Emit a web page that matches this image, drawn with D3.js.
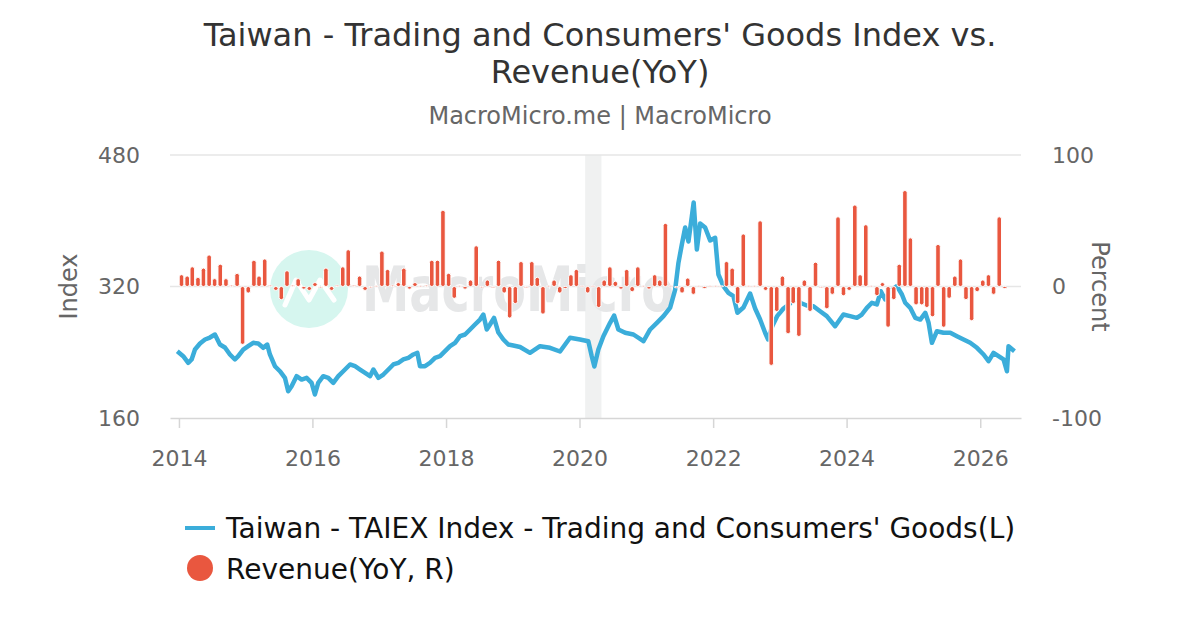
<!DOCTYPE html>
<html>
<head>
<meta charset="utf-8">
<script src="https://cdn.jsdelivr.net/npm/d3@7"></script>
<style>
  body { margin: 0; background: #fff; }
  text { font-family: "DejaVu Sans", sans-serif; }
</style>
</head>
<body>
<svg id="chart" width="1200" height="630"></svg>
<script>
// Revenue YoY (%), monthly from Jan 2014
const revenueStart = [2014, 0];
const revenueYoY = [
  9, 8, 15, 7, 14, 24, 6, 17, 6, 1, 10, -44,
  -5, 20, 8, 21, 1, -3, -10, 12, 1, 6, -2, -3,
  3, -1, 14, -3, 1, 15, 28, 1, 8, -3, -1, 0.5,
  27, 13, 1, 3, 14, -2, 3, 0.5, 1, 20, 20, 58,
  10, -9, 0.5, -2, 5, 31, -1, 5, -1, 20, -5, -24,
  -13, 19, -1, 19, 7, -21, 0.5, 5, -5, -1.5, 9, 13,
  0.5, -5, 0.5, -16, 5, 15, 4, -2, 13, -4, 15, 0.5,
  -2, 9, 5, 48, 0.5, -1, -5, 6.5, -6, 0.5, -1.5, 0.5,
  0.5, 0.5, 19, 14, -13, 40, 0.5, 0.5, 50, -3, -60, -19,
  8, -36, -13, -38, 5, -19, 18.5, -1, -17, -6, 53, -7,
  -3, 62, 9, 47, 0.5, -7, 3, -31, -10, 17, 73, 37,
  -14, -14, -16, -23, 32, -31, -9, 8, 21, -10, -26, -4,
  5, 9, -6, 53, -1.5
];

// TAIEX Trading and Consumers' Goods index (decimal year, value)
const indexYears = [
  2013.975, 2014.064, 2014.139, 2014.190, 2014.240, 2014.315, 2014.390, 2014.464, 2014.539, 2014.614,
  2014.689, 2014.764, 2014.839, 2014.888, 2014.963, 2015.038, 2015.113, 2015.188, 2015.263, 2015.323,
  2015.363, 2015.438, 2015.513, 2015.588, 2015.637, 2015.688, 2015.763, 2015.838, 2015.913, 2015.988,
  2016.037, 2016.087, 2016.162, 2016.237, 2016.312, 2016.387, 2016.461, 2016.562, 2016.637, 2016.712,
  2016.787, 2016.861, 2016.911, 2016.986, 2017.061, 2017.136, 2017.210, 2017.285, 2017.360, 2017.435,
  2017.510, 2017.570, 2017.610, 2017.685, 2017.760, 2017.835, 2017.910, 2017.985, 2018.060, 2018.135,
  2018.210, 2018.285, 2018.360, 2018.434, 2018.509, 2018.559, 2018.610, 2018.659, 2018.719, 2018.784,
  2018.859, 2018.933, 2019.008, 2019.109, 2019.258, 2019.408, 2019.558, 2019.708, 2019.858, 2020.007,
  2020.132, 2020.183, 2020.222, 2020.282, 2020.357, 2020.457, 2020.517, 2020.581, 2020.682, 2020.806,
  2020.956, 2021.056, 2021.157, 2021.256, 2021.356, 2021.431, 2021.480, 2021.531, 2021.581, 2021.630,
  2021.681, 2021.708, 2021.756, 2021.805, 2021.880, 2021.955, 2022.030, 2022.079, 2022.154, 2022.229,
  2022.304, 2022.364, 2022.454, 2022.554, 2022.629, 2022.704, 2022.779, 2022.824, 2022.884, 2022.959,
  2023.054, 2023.154, 2023.229, 2023.303, 2023.404, 2023.503, 2023.603, 2023.703, 2023.828, 2023.952,
  2024.052, 2024.153, 2024.228, 2024.303, 2024.378, 2024.452, 2024.512, 2024.577, 2024.652, 2024.752,
  2024.827, 2024.876, 2024.951, 2025.026, 2025.101, 2025.176, 2025.226, 2025.276, 2025.351, 2025.450,
  2025.551, 2025.651, 2025.750, 2025.850, 2025.951, 2026.050, 2026.125, 2026.199, 2026.274, 2026.349,
  2026.400, 2026.424, 2026.513
];
const indexValues = [
  241.3, 235.2, 227.2, 231.2, 243.3, 250.6, 255.5, 257.9, 261.6, 249.4,
  245.8, 237.3, 231.2, 235.2, 243.3, 247.4, 251.5, 250.6, 245.4, 249.4,
  237.3, 223.0, 216.9, 208.9, 192.6, 198.7, 210.9, 206.8, 208.9, 202.8,
  188.6, 202.8, 210.9, 208.9, 202.8, 210.9, 216.9, 225.1, 223.0, 219.0,
  215.0, 210.9, 219.0, 208.9, 212.9, 219.0, 225.1, 227.2, 231.2, 233.2,
  237.3, 239.3, 223.0, 223.0, 227.2, 233.2, 235.2, 241.3, 247.4, 251.5,
  259.5, 261.6, 267.7, 273.8, 279.8, 285.9, 267.7, 273.8, 281.9, 264.0,
  255.5, 249.4, 248.2, 246.4, 239.3, 247.4, 245.4, 240.9, 257.6, 255.5,
  253.4, 235.2, 222.7, 243.3, 259.5, 275.8, 284.7, 267.7, 263.7, 261.6,
  253.4, 267.7, 275.8, 283.9, 294.4, 316.3, 348.8, 371.1, 391.8, 374.8,
  405.5, 422.2, 365.0, 396.7, 391.8, 376.0, 379.3, 334.6, 320.4, 312.3,
  308.2, 288.0, 294.4, 311.5, 293.2, 279.8, 263.7, 255.5, 271.3, 283.9,
  293.2, 299.3, 310.3, 300.2, 296.9, 296.0, 289.9, 283.9, 271.7, 285.9,
  283.9, 281.9, 285.9, 294.1, 300.2, 298.1, 314.3, 304.2, 314.3, 320.4,
  310.3, 300.2, 294.1, 281.9, 279.8, 288.0, 275.8, 251.5, 265.6, 263.7,
  263.7, 259.5, 255.5, 251.5, 245.4, 237.3, 229.1, 239.3, 235.2, 231.2,
  216.9, 247.4, 241.3
];

const xTicks = [2014, 2016, 2018, 2020, 2022, 2024, 2026];
const leftTicks = [160, 320, 480];
const rightTicks = [-100, 0, 100];
const recession = ["2020-02-01", "2020-04-30"];

const seriesNames = ["Taiwan - TAIEX Index - Trading and Consumers' Goods(L)", "Revenue(YoY, R)"];

const blue = "#3badda";
const red = "#e9573f";

function decYear(y) {
  const yr = Math.floor(y);
  const a = new Date(yr, 0, 1), b = new Date(yr + 1, 0, 1);
  return new Date(+a + (y - yr) * (b - a));
}

const svg = d3.select("#chart");
const plotLeft = 170, plotRight = 1021, plotTop = 155, plotBottom = 418;

const x = d3.scaleTime()
  .domain([new Date(2013, 10, 13), new Date(2026, 7, 12)])
  .range([plotLeft, plotRight]);
const yL = d3.scaleLinear().domain([160, 480]).range([plotBottom, plotTop]);
const yR = d3.scaleLinear().domain([-100, 100]).range([plotBottom, plotTop]);

// titles
svg.append("text")
  .attr("x", 600).attr("y", 46)
  .attr("text-anchor", "middle")
  .attr("font-size", 32).attr("fill", "#333")
  .text("Taiwan - Trading and Consumers' Goods Index vs.");
svg.append("text")
  .attr("x", 600).attr("y", 83)
  .attr("text-anchor", "middle")
  .attr("font-size", 32).attr("fill", "#333")
  .text("Revenue(YoY)");
svg.append("text")
  .attr("x", 600).attr("y", 124)
  .attr("text-anchor", "middle")
  .attr("font-size", 24).attr("fill", "#666")
  .text("MacroMicro.me | MacroMicro");

// recession band
svg.append("rect")
  .attr("x", x(new Date(recession[0])))
  .attr("y", plotTop)
  .attr("width", x(new Date(recession[1])) - x(new Date(recession[0])))
  .attr("height", plotBottom - plotTop)
  .attr("fill", "#f0f1f1");

// grid
svg.append("g")
  .selectAll("line")
  .data(leftTicks.slice(1))
  .join("line")
  .attr("x1", plotLeft).attr("x2", plotRight)
  .attr("y1", d => yL(d)).attr("y2", d => yL(d))
  .attr("stroke", "#e6e6e6").attr("stroke-width", 1.5);

// x axis
const xAxis = svg.append("g")
  .attr("transform", `translate(0,${plotBottom})`)
  .call(d3.axisBottom(x)
    .tickValues(xTicks.map(d => new Date(d, 0, 1)))
    .tickFormat(d3.timeFormat("%Y"))
    .tickSize(10)
    .tickSizeOuter(0)
    .tickPadding(22));
xAxis.select(".domain").attr("stroke", "#d6d6d6").attr("stroke-width", 1.5);
xAxis.selectAll(".tick line").attr("stroke", "#d6d6d6").attr("stroke-width", 1.5);
xAxis.selectAll(".tick text")
  .attr("font-size", 22).attr("fill", "#666")
  .attr("font-family", "DejaVu Sans, sans-serif");

// y axes labels
const yAxisL = svg.append("g")
  .attr("transform", `translate(${plotLeft - 30},0)`)
  .call(d3.axisLeft(yL).tickValues(leftTicks).tickSize(0).tickPadding(0));
yAxisL.select(".domain").remove();
yAxisL.selectAll("text")
  .attr("font-size", 22).attr("fill", "#666")
  .attr("font-family", "DejaVu Sans, sans-serif");

const yAxisR = svg.append("g")
  .attr("transform", `translate(${plotRight + 31},0)`)
  .call(d3.axisRight(yR).tickValues(rightTicks).tickSize(0).tickPadding(0)
    .tickFormat(d => String(d)));
yAxisR.select(".domain").remove();
yAxisR.selectAll("text")
  .attr("font-size", 22).attr("fill", "#666")
  .attr("font-family", "DejaVu Sans, sans-serif");

svg.append("text")
  .attr("transform", `translate(77,${yL(320)}) rotate(-90)`)
  .attr("text-anchor", "middle")
  .attr("font-size", 24).attr("fill", "#666")
  .text("Index");
svg.append("text")
  .attr("transform", `translate(1092,${yL(320)}) rotate(90)`)
  .attr("text-anchor", "middle")
  .attr("font-size", 24).attr("fill", "#666")
  .text("Percent");

// watermark
const wm = svg.append("g");
wm.append("circle")
  .attr("cx", 309).attr("cy", 289).attr("r", 39)
  .attr("fill", "#d6f6ef");
wm.append("polyline")
  .attr("points", "285,305 296,280 309,300 320,280 334,300")
  .attr("fill", "none").attr("stroke", "#fff").attr("stroke-width", 5)
  .attr("stroke-linejoin", "round").attr("stroke-linecap", "round");
wm.append("text")
  .attr("x", 362).attr("y", 311)
  .attr("font-size", 62).attr("font-weight", "bold")
  .attr("fill", "#e6e7e8")
  .attr("textLength", 312).attr("lengthAdjust", "spacingAndGlyphs")
  .text("MacroMicro");

// index line
const lineData = indexYears.map((d, i) => ({date: decYear(d), value: indexValues[i]}));
svg.append("path")
  .datum(lineData)
  .attr("fill", "none")
  .attr("stroke", blue)
  .attr("stroke-width", 4.5)
  .attr("stroke-linejoin", "round")
  .attr("d", d3.line().x(d => x(d.date)).y(d => yL(d.value)));

// revenue bars
const barData = revenueYoY.map((v, i) => ({date: new Date(revenueStart[0], revenueStart[1] + i, 15), value: v}));
const bw = 4.6;
svg.append("g")
  .selectAll("rect")
  .data(barData)
  .join("rect")
  .attr("x", d => x(d.date) - bw / 2)
  .attr("y", d => Math.min(yR(d.value), yR(0)))
  .attr("width", bw)
  .attr("height", d => Math.max(Math.abs(yR(d.value) - yR(0)), 1))
  .attr("rx", 2.2)
  .attr("fill", red)
  .attr("stroke", "#fff")
  .attr("stroke-width", 1);

// legend
const lg = svg.append("g");
lg.append("line")
  .attr("x1", 185).attr("x2", 215).attr("y1", 528).attr("y2", 528)
  .attr("stroke", blue).attr("stroke-width", 4);
lg.append("text")
  .attr("x", 226).attr("y", 538)
  .attr("font-size", 28).attr("fill", "#111")
  .text(seriesNames[0]);
lg.append("circle")
  .attr("cx", 200).attr("cy", 568).attr("r", 13)
  .attr("fill", red);
lg.append("text")
  .attr("x", 226).attr("y", 579)
  .attr("font-size", 28).attr("fill", "#111")
  .text(seriesNames[1]);
</script>
</body>
</html>
